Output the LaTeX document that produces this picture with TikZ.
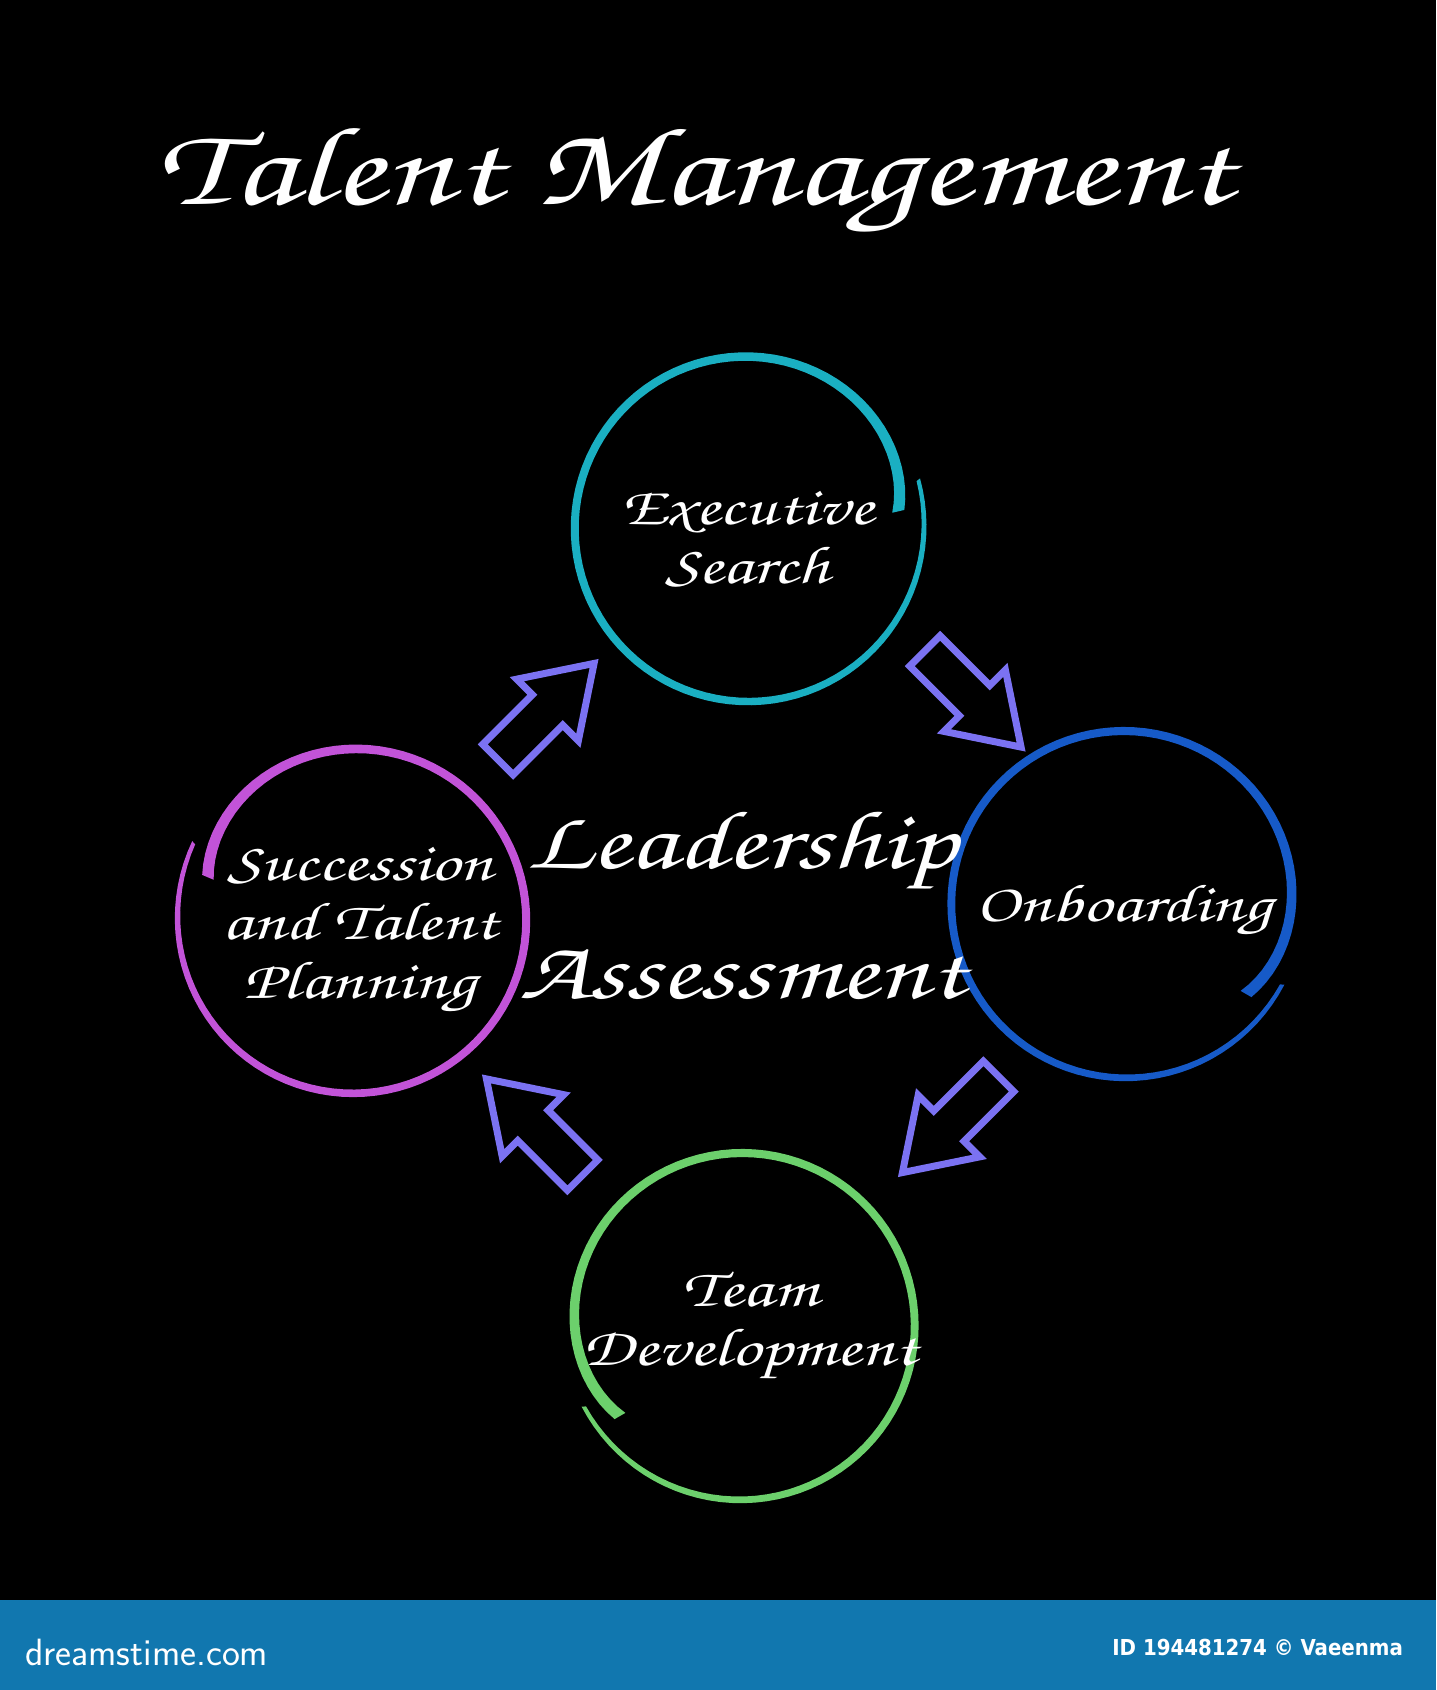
\documentclass[tikz,border=0pt]{standalone}
\usepackage{fontspec}
\newfontfamily\handfont[FakeStretch=1.35]{TeX Gyre Chorus}
\newfontfamily\barfont{DejaVu Sans Condensed}
\usetikzlibrary{shapes.arrows,calc}

\definecolor{execcol}{HTML}{1AAFC2}
\definecolor{onbcol}{HTML}{165AC8}
\definecolor{teamcol}{HTML}{6CD06C}
\definecolor{succcol}{HTML}{C253D8}
\definecolor{arrowcol}{HTML}{7B72F2}
\definecolor{barblue}{HTML}{1177AF}

\tikzstyle{every node}=[text=white]
\tikzstyle{stage}=[circle, minimum size=176pt, inner sep=0pt]
\tikzstyle{stagetext}=[align=center, font=\handfont\fontsize{26.7pt}{29.5pt}\selectfont]
\tikzstyle{flow}=[single arrow, draw=arrowcol, line width=3.5pt, inner xsep=0pt,
	inner ysep=9pt, minimum height=68pt, minimum width=40pt,
	single arrow head extend=11pt, single arrow tip angle=67]

% brush stroke round a stage: node, colour, start angle, sweep
\newcommand{\brushring}[4]{%
	\fill[#2, shift={(#1.center)}]
	plot[domain=0:1, samples=100, variable=\u]
	({#3+#4*\u}:{172+6*(1-\u)^4-20*\u^14+(4-2*(1-\u)^6+2*\u^8)})
	-- plot[domain=1:0, samples=100, variable=\u]
	({#3+#4*\u}:{172+6*(1-\u)^4-20*\u^14-(4-2*(1-\u)^6+2*\u^8)})
	-- cycle;}

\begin{document}
\begin{tikzpicture}[x=0.5pt, y=0.5pt]
	\useasboundingbox (0,0) rectangle (1436,-1690);
	\fill[black] (0,0) rectangle (1436,-1690);
	%title
	\node[anchor=base, font=\handfont\fontsize{56pt}{56pt}\selectfont] (title) at (695,-205) {Talent Management};
	%stages
	\node[stage] (exec) at (747,-528) {};
	\node[stage] (onb) at (1124,-903) {};
	\node[stage] (team) at (742,-1325) {};
	\node[stage] (succ) at (354,-920) {};
	\brushring{exec}{execcol}{16}{-370}
	\brushring{onb}{onbcol}{-27}{-370}
	\brushring{team}{teamcol}{207}{370}
	\brushring{succ}{succcol}{154}{370}
	\node[stagetext] (exectext) at ($(exec)+(0,-11)$) {Executive\\Search};
	\node[stagetext] (onbtext) at ($(onb)+(0,-7)$) {Onboarding};
	\node[stagetext] (teamtext) at ($(team)+(8,0)$) {Team\\Development};
	\node[stagetext] (succtext) at ($(succ)+(6,-9)$) {Succession\\and Talent\\Planning};
	%centre
	\node[align=center, font=\handfont\fontsize{41.5pt}{65pt}\selectfont] (lead) at (742,-906) {Leadership\\Assessment};
	%arrows
	\node[flow, rotate=45] (a1) at ($(succ)!0.5!(exec)+(-16,1)$) {};
	\node[flow, rotate=-45] (a2) at ($(exec)!0.5!(onb)+(26,28)$) {};
	\node[flow, rotate=-135] (a3) at ($(onb)!0.5!(team)+(29,1)$) {};
	\node[flow, rotate=135] (a4) at ($(team)!0.5!(succ)+(-2,-16)$) {};
	%bar
	\fill[barblue] (0,-1600) rectangle (1436,-1690);
	\node[anchor=west, font=\sffamily\fontsize{19pt}{19pt}\selectfont] (site) at (18,-1652) {dreamstime.com};
	\node[anchor=east, font=\barfont\bfseries\fontsize{11pt}{11pt}\selectfont] (credit) at (1410,-1647) {ID 194481274 © Vaeenma};
\end{tikzpicture}
\end{document}
